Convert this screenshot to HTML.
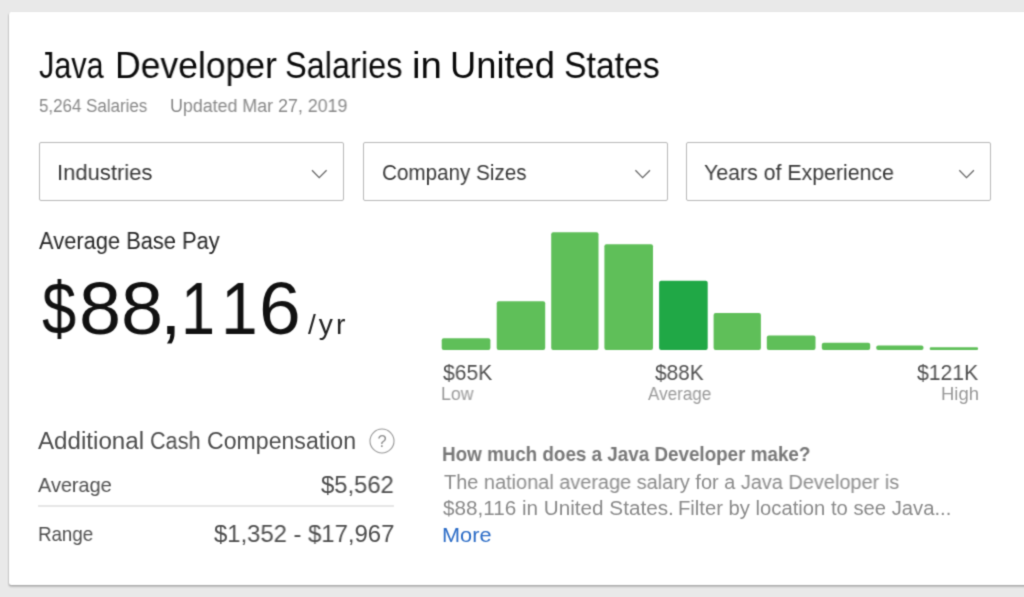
<!DOCTYPE html>
<html>
<head>
<meta charset="utf-8">
<style>
html,body{margin:0;padding:0;}
body{width:1024px;height:597px;overflow:hidden;background:#e9e9e9;font-family:"Liberation Sans",sans-serif;position:relative;}
.card{position:absolute;left:9px;top:12px;width:1030px;height:573px;background:#fff;border-radius:2.5px;box-shadow:0 1.5px 2px rgba(0,0,0,0.2),-0.5px 1px 1px rgba(0,0,0,0.1);}
#w{position:absolute;left:0;top:0;width:1024px;height:597px;filter:url(#soft);}
.t{position:absolute;white-space:nowrap;line-height:1;transform-origin:0 0;will-change:transform;}
.box{position:absolute;top:142px;width:303px;height:57px;border:1px solid #b8b8b8;border-radius:2px;}
.chev{position:absolute;width:18px;height:12px;}
</style>
</head>
<body>
<svg width="0" height="0" style="position:absolute"><filter id="soft" x="0" y="0" width="100%" height="100%" color-interpolation-filters="sRGB"><feConvolveMatrix order="3" kernelMatrix="1 4 1 4 16 4 1 4 1" divisor="36" edgeMode="duplicate"/></filter></svg>
<div id="w">
<div class="card"></div>
<div class="box" style="left:39px;"></div>
<div class="box" style="left:363px;"></div>
<div class="box" style="left:686px;"></div>
<svg class="chev" style="left:310px;top:168px;" viewBox="0 0 18 12"><path d="M2 2.3 L9.2 9.6 L16.6 2.3" fill="none" stroke="#666" stroke-width="1.25"/></svg>
<svg class="chev" style="left:634px;top:168px;" viewBox="0 0 18 12"><path d="M1.4 2.3 L8.6 9.6 L16 2.3" fill="none" stroke="#666" stroke-width="1.25"/></svg>
<svg class="chev" style="left:958px;top:168px;" viewBox="0 0 18 12"><path d="M1.3 2.3 L8.5 9.6 L15.9 2.3" fill="none" stroke="#666" stroke-width="1.25"/></svg>
<svg style="position:absolute;left:369px;top:428px;" width="26" height="26" viewBox="0 0 26 26"><circle cx="13" cy="13" r="12" fill="none" stroke="#999" stroke-width="1.1"/><text x="13.2" y="19.3" text-anchor="middle" font-family="Liberation Sans" font-size="16.5" fill="#8f8f8f">?</text></svg>
<div style="position:absolute;left:38px;top:505px;width:356px;height:2px;background:#e6e6e6;"></div>
<svg style="position:absolute;left:0;top:0;" width="1024" height="597"><rect x="441.7" y="338.2" width="48.7" height="11.8" rx="2.0" fill="#5fbf59"/><rect x="496.7" y="301.3" width="48.5" height="48.7" rx="2.0" fill="#5fbf59"/><rect x="551.2" y="232.2" width="47.3" height="117.8" rx="2.0" fill="#5fbf59"/><rect x="604.4" y="244.2" width="48.6" height="105.8" rx="2.0" fill="#5fbf59"/><rect x="659.1" y="280.7" width="48.6" height="69.3" rx="2.0" fill="#20a846"/><rect x="713.6" y="313.0" width="47.3" height="37.0" rx="2.0" fill="#5fbf59"/><rect x="766.8" y="335.4" width="48.7" height="14.6" rx="2.0" fill="#5fbf59"/><rect x="821.8" y="342.8" width="48.4" height="7.2" rx="2.0" fill="#5fbf59"/><rect x="876.2" y="345.6" width="47.3" height="4.4" rx="2.0" fill="#5fbf59"/><rect x="929.7" y="347.3" width="48.4" height="2.7" rx="1.3" fill="#5fbf59"/></svg>
<div class="t" id="title0" style="left:39.22px;top:47.60px;font-size:36px;color:#0a0a0a;transform:scaleX(0.8501);">Java</div>
<div class="t" id="title1" style="left:115.04px;top:47.60px;font-size:36px;color:#0a0a0a;transform:scaleX(0.9870);">Developer</div>
<div class="t" id="title2" style="left:284.80px;top:47.60px;font-size:36px;color:#0a0a0a;transform:scaleX(0.9032);">Salaries</div>
<div class="t" id="title3" style="left:411.68px;top:47.60px;font-size:36px;color:#0a0a0a;transform:scaleX(1.0669);">in</div>
<div class="t" id="title4" style="left:449.96px;top:47.60px;font-size:36px;color:#0a0a0a;transform:scaleX(1.0091);">United</div>
<div class="t" id="title5" style="left:563.95px;top:47.60px;font-size:36px;color:#0a0a0a;transform:scaleX(0.9374);">States</div>
<div class="t" id="sub1" style="left:39.08px;top:96.81px;font-size:18px;color:#888;transform:scaleX(0.9412);">5,264 Salaries</div>
<div class="t" id="sub2" style="left:170.41px;top:96.81px;font-size:18px;color:#888;transform:scaleX(0.9910);">Updated Mar 27, 2019</div>
<div class="t" id="dd1" style="left:57.45px;top:162.00px;font-size:22.5px;color:#383838;transform:scaleX(0.9789);">Industries</div>
<div class="t" id="dd2" style="left:382.30px;top:162.00px;font-size:22.5px;color:#383838;transform:scaleX(0.9180);">Company Sizes</div>
<div class="t" id="dd3" style="left:704.47px;top:162.00px;font-size:22.5px;color:#383838;transform:scaleX(0.9472);">Years of Experience</div>
<div class="t" id="abp" style="left:39.19px;top:230.31px;font-size:23px;color:#262626;transform:scaleX(0.9505);">Average Base Pay</div>
<div class="t" id="big0" style="left:41.65px;top:271.00px;font-size:75px;color:#111;transform:scaleX(0.8175);">$</div>
<div class="t" id="big1" style="left:79.37px;top:271.00px;font-size:75px;color:#111;transform:scaleX(1.0091);">88</div>
<div class="t" id="big2" style="left:160.33px;top:271.00px;font-size:75px;color:#111;transform:scaleX(1.0337);">,</div>
<div class="t" id="big3" style="left:180.94px;top:271.00px;font-size:75px;color:#111;transform:scaleX(0.8126);">1</div>
<div class="t" id="big4" style="left:220.83px;top:271.00px;font-size:75px;color:#111;transform:scaleX(0.8788);">1</div>
<div class="t" id="big5" style="left:258.82px;top:271.00px;font-size:75px;color:#111;transform:scaleX(0.9974);">6</div>
<div class="t" id="yr" style="left:308.40px;top:310.51px;font-size:28px;color:#222;letter-spacing:3px;transform:scaleX(1.0081);">/yr</div>
<div class="t" id="acc0" style="left:37.81px;top:429.51px;font-size:23px;color:#4d4d4d;transform:scaleX(1.0500);">Additional</div>
<div class="t" id="acc1" style="left:150.08px;top:429.51px;font-size:23px;color:#4d4d4d;transform:scaleX(0.9394);">Cash</div>
<div class="t" id="acc2" style="left:207.39px;top:429.51px;font-size:23px;color:#4d4d4d;transform:scaleX(1.0048);">Compensation</div>
<div class="t" id="avg" style="left:38.02px;top:473.51px;font-size:21px;color:#4d4d4d;transform:scaleX(0.9455);">Average</div>
<div class="t" id="avgv" style="left:320.80px;top:473.01px;font-size:24px;color:#4d4d4d;transform:scaleX(0.9917);">$5,562</div>
<div class="t" id="rng" style="left:38.25px;top:522.51px;font-size:21px;color:#4d4d4d;transform:scaleX(0.8901);">Range</div>
<div class="t" id="rngv" style="left:213.60px;top:521.82px;font-size:24px;color:#4d4d4d;transform:scaleX(0.9934);">$1,352 - $17,967</div>
<div class="t" id="l1" style="left:443.19px;top:361.90px;font-size:22px;color:#505050;transform:scaleX(0.9570);">$65K</div>
<div class="t" id="l2" style="left:655.02px;top:361.90px;font-size:22px;color:#505050;transform:scaleX(0.9452);">$88K</div>
<div class="t" id="l3" style="left:917.19px;top:361.90px;font-size:22px;color:#505050;transform:scaleX(0.9604);">$121K</div>
<div class="t" id="s1" style="left:441.44px;top:385.01px;font-size:18px;color:#999;transform:scaleX(0.9841);">Low</div>
<div class="t" id="s2" style="left:647.80px;top:385.01px;font-size:18px;color:#999;transform:scaleX(0.9470);">Average</div>
<div class="t" id="s3" style="left:940.75px;top:385.01px;font-size:18px;color:#999;transform:scaleX(1.0267);">High</div>
<div class="t" id="q" style="left:442.32px;top:443.22px;font-size:21px;color:#777;font-weight:bold;transform:scaleX(0.8966);">How much does a Java Developer make?</div>
<div class="t" id="p1" style="left:444.20px;top:471.71px;font-size:20px;color:#8a8a8a;transform:scaleX(0.9961);">The national average salary for a Java Developer is</div>
<div class="t" id="p2a" style="left:443.16px;top:497.81px;font-size:20px;color:#8a8a8a;transform:scaleX(1.0341);">$88,116 in United States.</div>
<div class="t" id="p2b" style="left:677.98px;top:497.81px;font-size:20px;color:#8a8a8a;transform:scaleX(1.0120);">Filter by location to see Java...</div>
<div class="t" id="more" style="left:442.08px;top:524.60px;font-size:20.5px;color:#2a6bc6;transform:scaleX(1.0592);">More</div>
</div>
</body>
</html>
